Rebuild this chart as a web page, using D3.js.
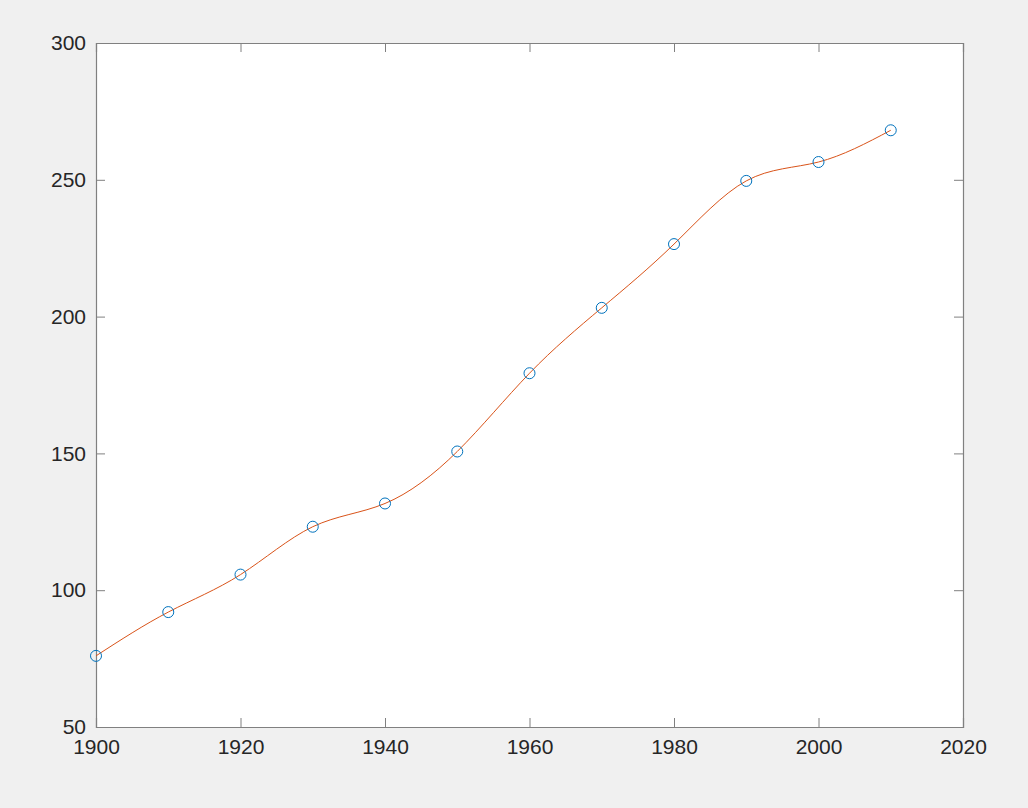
<!DOCTYPE html>
<html>
<head>
<meta charset="utf-8">
<script src="https://cdn.jsdelivr.net/npm/d3@7"></script>
<style>
  body { margin: 0; background: #f0f0f0; }
  svg { display: block; }
</style>
</head>
<body>
<script>
// Census data
var years = [1900, 1910, 1920, 1930, 1940, 1950, 1960, 1970, 1980, 1990, 2000, 2010];
var pop = [76.0, 92.0, 105.7, 123.2, 131.7, 150.7, 179.3, 203.2, 226.5, 249.6, 256.5, 268.1];
var xTicks = [1900, 1920, 1940, 1960, 1980, 2000, 2020];
var yTicks = [50, 100, 150, 200, 250, 300];

var W = 1028, H = 808;
var m = { left: 96, right: 963, top: 43, bottom: 727 };

var svg = d3.select("body").append("svg").attr("width", W).attr("height", H);
svg.append("rect").attr("width", W).attr("height", H).attr("fill", "#f0f0f0");

var x = d3.scaleLinear().domain([1900, 2020]).range([m.left, m.right]);
var y = d3.scaleLinear().domain([50, 300]).range([m.bottom, m.top]);

// Axes background
svg.append("rect")
    .attr("x", m.left).attr("y", m.top)
    .attr("width", m.right - m.left).attr("height", m.bottom - m.top)
    .attr("fill", "#ffffff");

var font = "'Liberation Sans', Helvetica, Arial, sans-serif";
var tickLen = 9, axisColor = "#808080";

// Bottom and top axes (ticks inward)
svg.append("g").attr("transform", "translate(0," + m.bottom + ")")
    .call(d3.axisBottom(x).tickValues(xTicks).tickSize(-tickLen).tickPadding(12).tickFormat(d3.format("d")));
svg.append("g").attr("transform", "translate(0," + m.top + ")")
    .call(d3.axisTop(x).tickValues(xTicks).tickSize(-tickLen).tickFormat(""));
// Left and right axes
svg.append("g").attr("transform", "translate(" + m.left + ",0)")
    .call(d3.axisLeft(y).tickValues(yTicks).tickSize(-tickLen).tickPadding(10));
svg.append("g").attr("transform", "translate(" + m.right + ",0)")
    .call(d3.axisRight(y).tickValues(yTicks).tickSize(-tickLen).tickFormat(""));

svg.selectAll(".domain").attr("stroke", axisColor).attr("stroke-width", 1.2);
svg.selectAll(".tick line").attr("stroke", axisColor);
svg.selectAll(".tick text")
    .attr("fill", "#262626")
    .style("font-family", font)
    .style("font-size", "21px");

// Spline through the census points
var line = d3.line()
    .x(function(d, i) { return x(years[i]); })
    .y(function(d) { return y(d); })
    .curve(d3.curveNatural);

svg.append("path")
    .datum(pop)
    .attr("d", line)
    .attr("fill", "none")
    .attr("stroke", "#D95319")
    .attr("stroke-width", 1);

// Markers
svg.selectAll(".pt").data(pop).enter().append("circle")
    .attr("class", "pt")
    .attr("cx", function(d, i) { return x(years[i]); })
    .attr("cy", function(d) { return y(d); })
    .attr("r", 5.5)
    .attr("fill", "none")
    .attr("stroke", "#0072BD")
    .attr("stroke-width", 1);
</script>
</body>
</html>
